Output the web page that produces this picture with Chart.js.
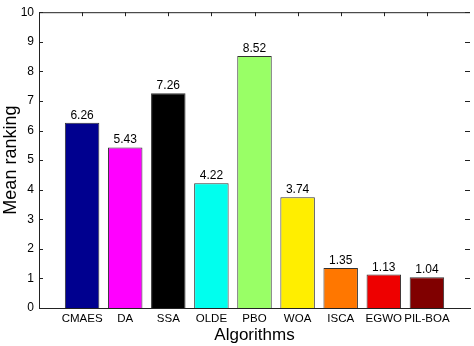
<!DOCTYPE html>
<html>
<head>
<meta charset="utf-8">
<script src="https://cdn.jsdelivr.net/npm/chart.js@4/dist/chart.umd.min.js"></script>
<style>
html,body{margin:0;padding:0;background:#fff;}
canvas{display:block;}
</style>
</head>
<body>
<canvas id="c" width="474" height="346"></canvas>
<script>
const categories = ['CMAES','DA','SSA','OLDE','PBO','WOA','ISCA','EGWO','PIL-BOA'];
const meanRanking = [6.26, 5.43, 7.26, 4.22, 8.52, 3.74, 1.35, 1.13, 1.04];
const barColors = ['#00008f','#ff00ff','#000000','#00ffee','#99ff66','#ffee00','#ff7700','#ee0000','#800000'];
const yTicks = [0,1,2,3,4,5,6,7,8,9,10];

const FONT = "'Liberation Sans', Arial, sans-serif";
Chart.defaults.font.family = FONT;
Chart.defaults.color = '#000';

const axisColor = '#222';

const frame = {
  id: 'frame',
  beforeDatasetsDraw(chart) {
    const {ctx, chartArea: a, scales} = chart;
    ctx.save();
    ctx.strokeStyle = axisColor;
    ctx.lineWidth = 1;
    ctx.beginPath();
    ctx.moveTo(a.left, a.top + 0.5); ctx.lineTo(a.right, a.top + 0.5);
    yTicks.forEach(v => {
      const y = Math.round(scales.y.getPixelForValue(v)) + 0.5;
      ctx.moveTo(a.left, y); ctx.lineTo(a.left + 4, y);
      ctx.moveTo(a.right - 5, y); ctx.lineTo(a.right, y);
    });
    categories.forEach((c, i) => {
      const x = Math.round(scales.x.getPixelForValue(i + 1)) + 0.5;
      ctx.moveTo(x, a.top); ctx.lineTo(x, a.top + 4);
      ctx.moveTo(x, a.bottom); ctx.lineTo(x, a.bottom - 4);
    });
    ctx.stroke();
    ctx.restore();
  },
  afterDatasetsDraw(chart) {
    const {ctx} = chart;
    const meta = chart.getDatasetMeta(0);
    ctx.save();
    ctx.font = '12px ' + FONT;
    ctx.fillStyle = '#000';
    ctx.textAlign = 'center';
    ctx.textBaseline = 'alphabetic';
    meta.data.forEach((bar, i) => {
      ctx.fillText(meanRanking[i].toFixed(2), bar.x, bar.y - 4);
    });
    ctx.restore();
  }
};

new Chart(document.getElementById('c'), {
  type: 'bar',
  data: {
    datasets: [{
      data: categories.map((c, i) => ({x: i + 1, y: meanRanking[i]})),
      backgroundColor: barColors,
      borderColor: '#333',
      borderWidth: 1,
      barPercentage: 0.8,
      categoryPercentage: 1.0
    }]
  },
  options: {
    responsive: false,
    animation: false,
    events: [],
    layout: { padding: { top: 5, right: 0, bottom: 0, left: 0 } },
    plugins: { legend: { display: false }, tooltip: { enabled: false } },
    scales: {
      x: {
        type: 'linear',
        min: 0, max: 10,
        offset: false,
        grid: { display: false, drawTicks: false },
        border: { display: true, color: axisColor, width: 1 },
        ticks: {
          stepSize: 1,
          autoSkip: false,
          maxRotation: 0,
          padding: 4,
          font: { size: 11.5 },
          callback: v => categories[v - 1] || ''
        },
        title: { display: true, text: 'Algorithms', font: { size: 17 }, padding: { top: 0, bottom: 0 } },
        afterFit: s => { s.height = 38; }
      },
      y: {
        min: 0, max: 10,
        grid: { display: false, drawTicks: false },
        border: { display: true, color: axisColor, width: 1 },
        ticks: { stepSize: 1, padding: 5, font: { size: 12 } },
        title: { display: true, text: 'Mean ranking', font: { size: 18 }, padding: { top: 0, bottom: 0 } },
        afterFit: s => { s.width = 39; }
      }
    }
  },
  plugins: [frame]
});
</script>
</body>
</html>
